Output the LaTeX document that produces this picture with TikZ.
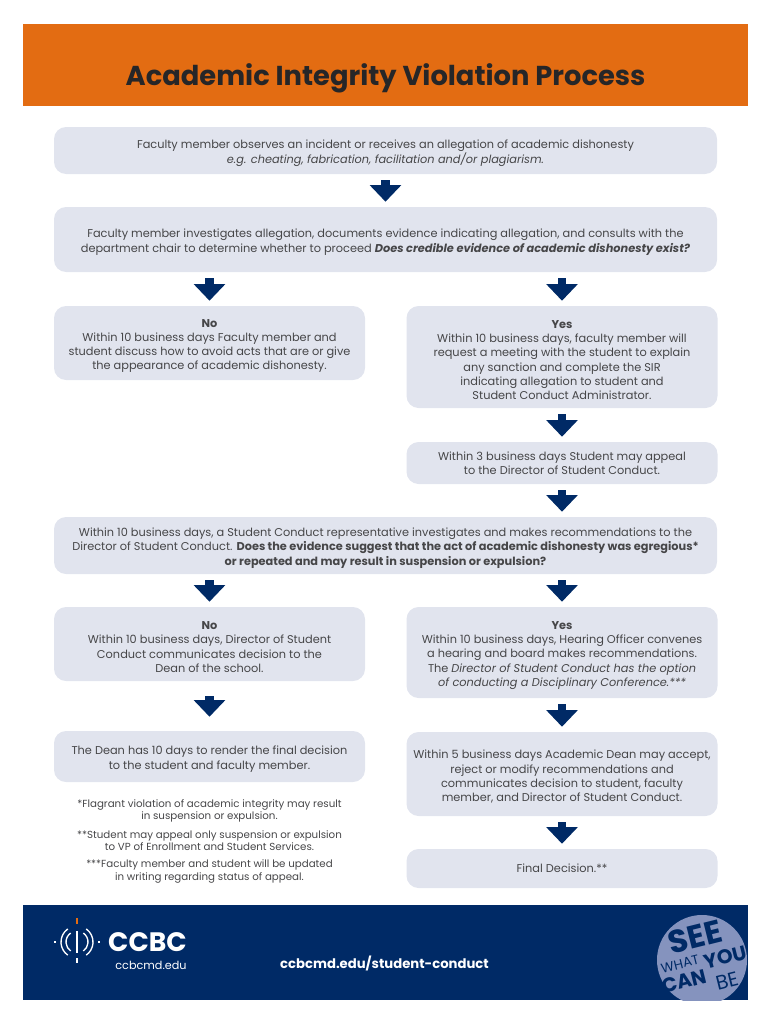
\documentclass[tikz,border=0pt]{standalone}
\usepackage{fontspec}
\setmainfont{Poppins}
\usepackage{xcolor}
\usetikzlibrary{arrows.meta}
\definecolor{bandorange}{RGB}{227, 108, 18}
\definecolor{bandnavy}{RGB}{0, 42, 102}
\definecolor{boxfill}{RGB}{225, 228, 238}
\definecolor{bodygray}{RGB}{70, 70, 72}
\definecolor{titledark}{RGB}{38, 38, 40}
\definecolor{badgeblue}{RGB}{133, 147, 190}
\newcommand{\bodysize}{\fontsize{8.5pt}{10.7pt}\selectfont}
\newcommand{\notesize}{\fontsize{7.7pt}{9.4pt}\selectfont}
\newcommand{\topfix}{\rule{0pt}{10.5pt}}
\tikzset{
    infobox/.style={fill=boxfill, rounded corners=9pt, inner sep=0pt, align=center, text=bodygray, font=\bodysize},
    widebox/.style={infobox, minimum width=497.25pt},
    sidebox/.style={infobox, minimum width=233.25pt},
    blockarrow/.style={draw=bandnavy, line width=6.5pt, shorten <=4.5pt, shorten >=3.75pt, -{Triangle[length=12.5pt, width=23pt, fill=bandnavy]}},
    footnote/.style={align=center, text=bodygray, font=\notesize, inner sep=0pt},
    logoline/.style={white, line width=1pt},
    badgetext/.style={text=bandnavy, inner sep=0pt, rotate=14}
}

\begin{document}
\begin{tikzpicture}[x=0.75pt, y=-0.75pt]
    \useasboundingbox (0,0) rectangle (768,1024);

    % Title Band
    \fill[bandorange] (23,24) rectangle (748,106);
    \node[font=\bfseries\fontsize{20.5pt}{24pt}\selectfont, text=titledark, inner sep=0pt] (title) at (385.5,78) {Academic Integrity Violation Process};

    % First Steps
    \node[widebox, minimum height=35.25pt] (observe) at (385.5,150.5) {\topfix Faculty member observes an incident or receives an allegation of academic dishonesty\\ \textit{e.g. cheating, fabrication, facilitation and/or plagiarism.}};
    \node[widebox, minimum height=48.75pt] (investigate) at (385.5,239.5) {\topfix Faculty member investigates allegation, documents evidence indicating allegation, and consults with the\\ department chair to determine whether to proceed \textbf{\textit{Does credible evidence of academic dishonesty exist?}}};

    % Credible Evidence Branches
    \node[sidebox, minimum height=55.5pt] (nofirst) at (209.5,343) {\topfix\textbf{No}\\ Within 10 business days Faculty member and\\ student discuss how to avoid acts that are or give\\ the appearance of academic dishonesty.};
    \node[sidebox, minimum height=76.5pt] (yesfirst) at (562,357) {\topfix\textbf{Yes}\\ Within 10 business days, faculty member will\\ request a meeting with the student to explain\\ any sanction and complete the SIR\\ indicating allegation to student and\\ Student Conduct Administrator.};
    \node[sidebox, minimum height=31.5pt] (appeal) at (562,463) {Within 3 business days Student may appeal\\ to the Director of Student Conduct.};

    % Conduct Review
    \node[widebox, minimum height=42.75pt] (review) at (385.5,545.5) {\topfix Within 10 business days, a Student Conduct representative investigates and makes recommendations to the\\ Director of Student Conduct. \textbf{Does the evidence suggest that the act of academic dishonesty was egregious*}\\ \textbf{or repeated and may result in suspension or expulsion?}};

    % Egregious Branches
    \node[sidebox, minimum height=55.5pt] (nosecond) at (209.5,644) {\topfix\textbf{No}\\ Within 10 business days, Director of Student\\ Conduct communicates decision to the\\ Dean of the school.};
    \node[sidebox, minimum height=68.25pt] (yessecond) at (562,652.5) {\topfix\textbf{Yes}\\ Within 10 business days, Hearing Officer convenes\\ a hearing and board makes recommendations.\\ The \textit{Director of Student Conduct has the option}\\ \textit{of conducting a Disciplinary Conference.***}};
    \node[sidebox, minimum height=38.25pt] (dean) at (209.5,756.5) {\topfix The Dean has 10 days to render the final decision\\ to the student and faculty member.};
    \node[sidebox, minimum height=63pt] (academic) at (562,774) {\topfix Within 5 business days Academic Dean may accept,\\ reject or modify recommendations and\\ communicates decision to student, faculty\\ member, and Director of Student Conduct.};
    \node[sidebox, minimum height=29.25pt] (final) at (562,868.5) {Final Decision.**};

    % Block Arrows
    \draw[blockarrow] (observe) -- (investigate);
    \draw[blockarrow] (investigate.south -| nofirst.north) -- (nofirst.north);
    \draw[blockarrow] (investigate.south -| yesfirst.north) -- (yesfirst.north);
    \draw[blockarrow] (yesfirst) -- (appeal);
    \draw[blockarrow] (appeal.south) -- (review.north -| appeal.south);
    \draw[blockarrow] (review.south -| nosecond.north) -- (nosecond.north);
    \draw[blockarrow] (review.south -| yessecond.north) -- (yessecond.north);
    \draw[blockarrow, shorten <=11.25pt, shorten >=10.5pt] (nosecond) -- (dean);
    \draw[blockarrow] (yessecond) -- (academic);
    \draw[blockarrow] (academic) -- (final);

    % Footnotes
    \node[footnote] (flagrant) at (209.5,811) {*Flagrant violation of academic integrity may result\\ in suspension or expulsion.};
    \node[footnote] (vpnote) at (209.5,840.5) {**Student may appeal only suspension or expulsion\\ to VP of Enrollment and Student Services.};
    \node[footnote] (updated) at (209.5,871.5) {***Faculty member and student will be updated\\ in writing regarding status of appeal.};

    % Footer Band
    \fill[bandnavy] (23,905) rectangle (748,1000);
    \begin{scope}
        \clip (23,905) rectangle (748,1000);
        \fill[badgeblue] (702,960) circle [radius=45];
    \end{scope}

    % Logo
    \draw[logoline] (67.8,928.9) arc [start angle=-125, end angle=-235, radius=16];
    \draw[logoline] (86.2,928.9) arc [start angle=-55, end angle=55, radius=16];
    \draw[logoline] (70.7,933) arc [start angle=-125, end angle=-235, radius=11];
    \draw[logoline] (83.3,933) arc [start angle=-55, end angle=55, radius=11];
    \draw[logoline] (77,931) -- (77,953);
    \draw[logoline] (54,942) -- (56,942) (98,942) -- (100,942) (77,958) -- (77,963);
    \draw[bandorange, line width=1pt] (77,918) -- (77,924);
    \node[font=\bfseries\fontsize{20pt}{24pt}\selectfont, text=white, inner sep=0pt] (ccbc) at (147.5,942) {CCBC};
    \node[font=\fontsize{8.4pt}{10pt}\selectfont, text=white, inner sep=0pt] (ccbcsite) at (151,965) {ccbcmd.edu};
    \node[font=\bfseries\fontsize{9.9pt}{12pt}\selectfont, text=white, inner sep=0pt] (conducturl) at (384.5,963) {ccbcmd.edu/student-conduct};

    % Badge
    \node[badgetext, font=\bfseries\fontsize{24pt}{26pt}\selectfont] (see) at (695,937) {SEE};
    \node[badgetext, font=\fontsize{10pt}{12pt}\selectfont] (what) at (680,964) {WHAT};
    \node[badgetext, font=\bfseries\fontsize{15pt}{18pt}\selectfont] (you) at (725,957) {YOU};
    \node[badgetext, font=\bfseries\fontsize{15pt}{18pt}\selectfont] (can) at (684,981) {CAN};
    \node[badgetext, font=\fontsize{15pt}{18pt}\selectfont] (be) at (727,981) {BE};
\end{tikzpicture}
\end{document}
